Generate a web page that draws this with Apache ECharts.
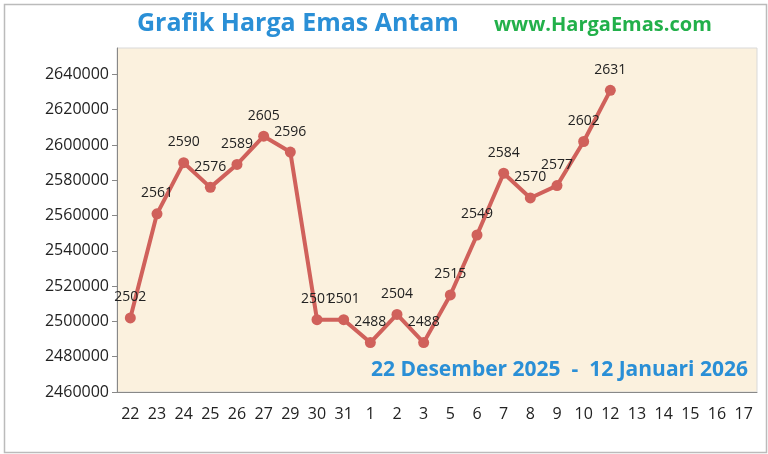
<!DOCTYPE html>
<html>
<head>
<meta charset="utf-8">
<script src="https://cdn.jsdelivr.net/npm/echarts@6/dist/echarts.min.js"></script>
<style>
  html, body { margin:0; padding:0; background:#fff; }
  #main { width:768px; height:454px; }
</style>
</head>
<body>
<div id="main"></div>
<script>
var days = ['22','23','24','25','26','27','29','30','31','1','2','3','5','6','7','8','9','10','12','13','14','15','16','17'];
var prices = [2502000,2561000,2590000,2576000,2589000,2605000,2596000,2501000,2501000,2488000,2504000,2488000,2515000,2549000,2584000,2570000,2577000,2602000,2631000,null,null,null,null,null];

var chart = echarts.init(document.getElementById('main'));
chart.setOption({
  backgroundColor: '#fff',
  graphic: [
    { type:'rect', left:2, top:2, shape:{ width:762, height:448 }, style:{ fill:'none', stroke:'#bbbbbb', lineWidth:1.5 } },
    { type:'text', left:137, top:11, style:{ text:'Grafik Harga Emas Antam', fill:'#2a8fd6', font:'bold 25px "Open Sans"' } },
    { type:'text', left:494, top:15, style:{ text:'www.HargaEmas.com', fill:'#22b04a', font:'bold 20px "Open Sans"' } },
    { type:'text', right:20, top:360, z:10, style:{ text:'22 Desember 2025  -  12 Januari 2026', fill:'#2a8fd6', font:'bold 21px "Open Sans"' } }
  ],
  grid: { left:117, right:11, top:48, bottom:62, backgroundColor:'#fbf1de', show:true, borderColor:'#d9d9d9', borderWidth:1 },
  xAxis: {
    type:'category', data:days, boundaryGap:true,
    axisLine:{ lineStyle:{ color:'#888' } },
    axisTick:{ show:false },
    axisLabel:{ color:'#222', fontSize:16, fontFamily:'"Open Sans"', margin:14 }
  },
  yAxis: {
    type:'value', min:2460000, max:2655000, interval:20000,
    axisLine:{ show:true, lineStyle:{ color:'#888' } },
    axisTick:{ show:true, lineStyle:{ color:'#888' } },
    splitLine:{ show:false },
    axisLabel:{ color:'#222', fontSize:16, fontFamily:'"Open Sans"', showMaxLabel:false,
      formatter:function(v){ return String(v); } }
  },
  series: [{
    type:'line', data:prices,
    lineStyle:{ color:'#d0615b', width:4 },
    itemStyle:{ color:'#d0615b' },
    symbol:'circle', symbolSize:11,
    label:{ show:true, position:'top', distance:8, color:'#222', fontSize:14, fontFamily:'"Open Sans"',
      formatter:function(p){ return Math.floor(p.value/1000); } }
  }]
});
</script>
</body>
</html>
